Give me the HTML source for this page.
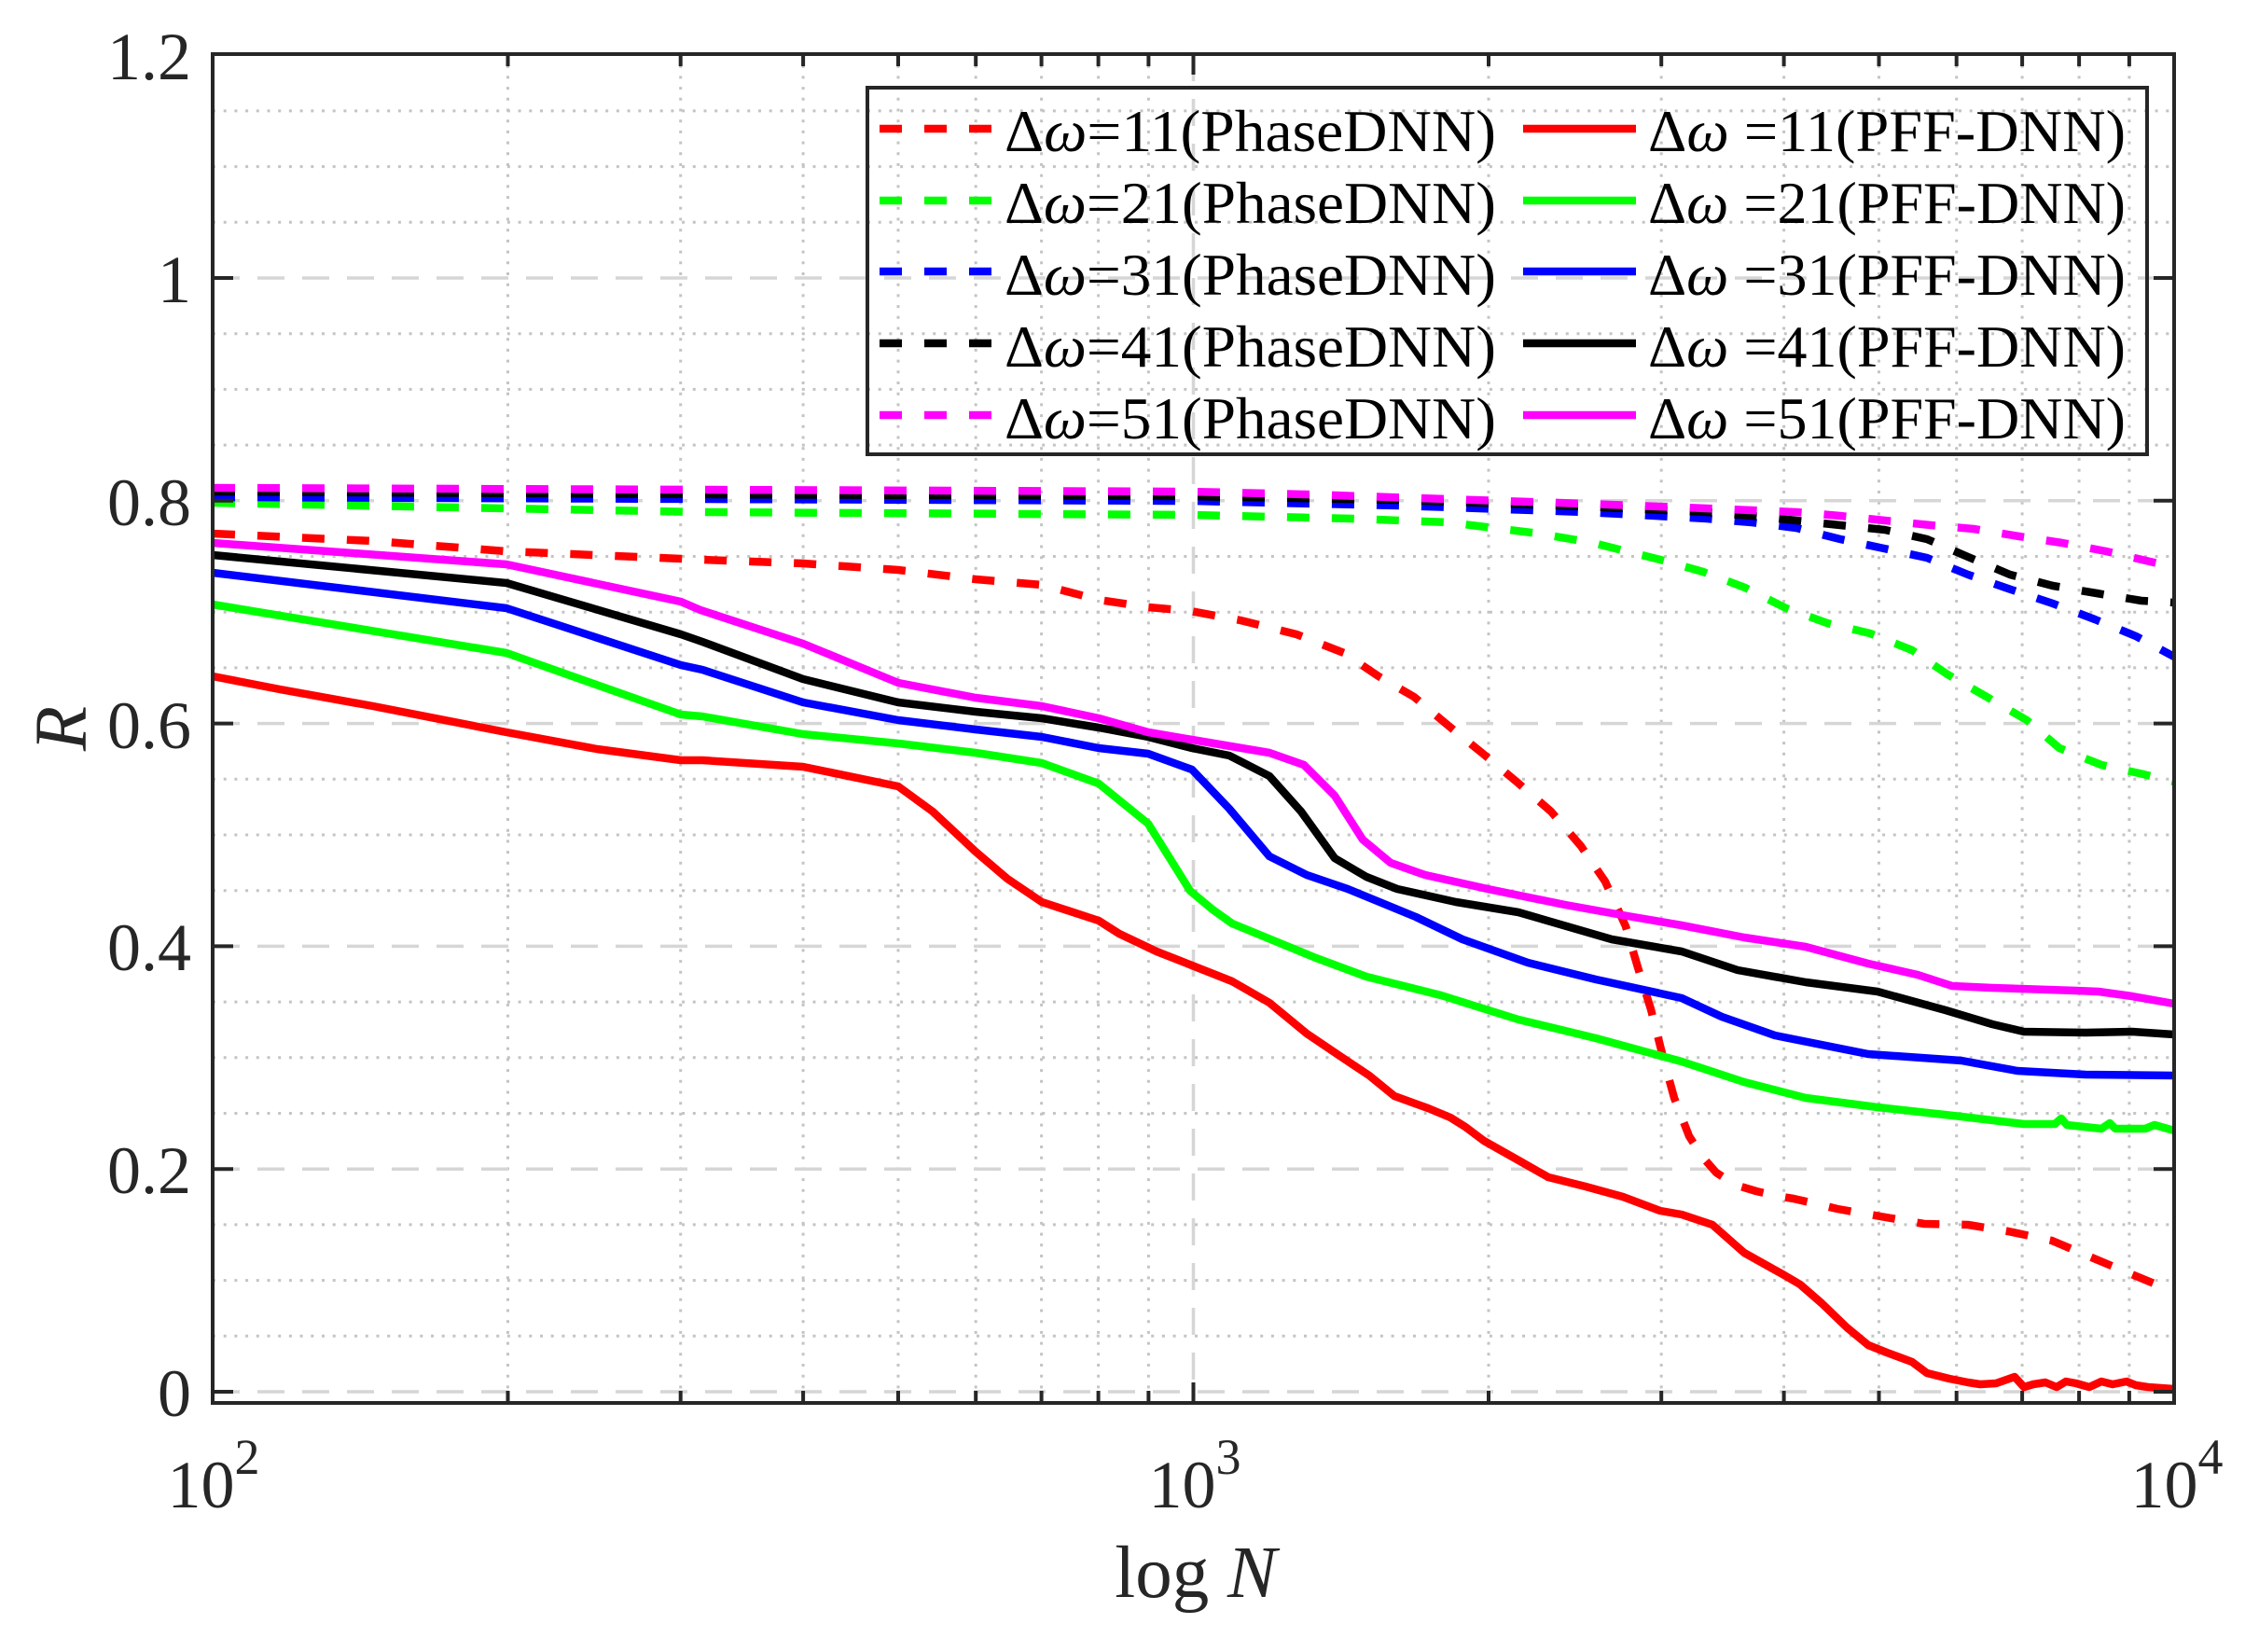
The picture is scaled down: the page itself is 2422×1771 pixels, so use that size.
<!DOCTYPE html>
<html><head><meta charset="utf-8"><style>
html,body{margin:0;padding:0;background:#fff;}
svg{display:block;}
text{font-family:"Liberation Serif","DejaVu Serif",serif;}
</style></head><body>
<svg width="2422" height="1771" viewBox="0 0 2422 1771" xmlns="http://www.w3.org/2000/svg">
<rect x="0" y="0" width="2422" height="1771" fill="#fff"/>
<!-- minor grid dotted -->
<g stroke="#c4c4c4" stroke-width="3" stroke-dasharray="3 8.7" fill="none">
<path d="M228 1432.3H2331M228 1372.6H2331M228 1312.9H2331M228 1193.5H2331M228 1133.8H2331M228 1074.1H2331M228 954.7H2331M228 895H2331M228 835.3H2331M228 715.9H2331M228 656.2H2331M228 596.5H2331M228 477.1H2331M228 417.4H2331M228 357.7H2331M228 238.3H2331M228 178.6H2331M228 118.9H2331"/>
<path d="M544.5 58V1504M729.7 58V1504M861.1 58V1504M963 58V1504M1046.2 58V1504M1116.6 58V1504M1177.6 58V1504M1231.4 58V1504M1596 58V1504M1781.2 58V1504M1912.6 58V1504M2014.5 58V1504M2097.7 58V1504M2168.1 58V1504M2229.1 58V1504M2282.9 58V1504"/>
</g>
<!-- major grid dashed -->
<g stroke="#d6d6d6" stroke-width="3.5" stroke-dasharray="29 19" fill="none">
<path d="M228 1492H2331M228 1253.2H2331M228 1014.4H2331M228 775.6H2331M228 536.8H2331M228 298H2331"/>
<path d="M1279.5 58V1504"/>
</g>

<!-- data -->
<g fill="none" stroke-width="8.5" stroke-linejoin="round">
<polyline stroke="#ff0000" stroke-dasharray="24 24" points="228,572 400,580 543,591 730,599 753,600 861,604 963,611 1046,621 1117,627 1178,643 1231,651 1276,655 1330,665 1390,680 1441,700 1478,725 1516,747 1553,778 1590,808 1626,838 1663,870 1695,907 1721,945 1743,993 1756,1037 1770,1082 1783,1133 1795,1177 1811,1218 1825,1240 1840,1257 1860,1270 1883,1277 1905,1282 1923,1285 1945,1290 1970,1296 2016,1304 2063,1312 2110,1313 2153,1320 2200,1330 2240,1347 2283,1365 2331,1385"/>
<polyline stroke="#ff0000" points="228,725 300,739 400,757 543,785 640,803 730,815 753,815 861,822 963,843 1000,870 1046,913 1080,942 1117,967 1178,987 1200,1001 1240,1020 1278,1035 1321,1052 1361,1075 1401,1108 1438,1133 1468,1153 1495,1175 1531,1188 1555,1198 1571,1208 1591,1223 1630,1245 1660,1262 1700,1272 1740,1283 1780,1298 1803,1302 1836,1313 1870,1343 1913,1367 1930,1377 1953,1397 1980,1423 2003,1442 2023,1450 2050,1460 2066,1472 2090,1478 2110,1482 2123,1484 2140,1483 2160,1476 2170,1487 2180,1484 2193,1482 2205,1487 2215,1481 2226,1483 2240,1487 2253,1481 2265,1484 2280,1481 2290,1485 2303,1487 2331,1489"/>
<polyline stroke="#00ff00" stroke-dasharray="24 24" points="228,539 543,545 753,549 1276,552 1450,556 1553,560 1650,572 1708,582 1780,600 1826,613 1871,630 1915,652 1959,668 2005,679 2050,697 2088,723 2130,747 2173,772 2208,802 2253,820 2298,830 2331,838"/>
<polyline stroke="#00ff00" points="228,648 543,700 730,766 753,768 861,787 963,797 1046,807 1117,818 1178,840 1231,883 1276,955 1300,975 1321,990 1411,1027 1465,1047 1545,1067 1628,1093 1711,1113 1803,1138 1870,1160 1936,1177 2013,1187 2103,1197 2170,1205 2203,1205 2210,1199 2216,1206 2253,1210 2262,1204 2268,1210 2300,1210 2310,1206 2331,1212"/>
<polyline stroke="#0000ff" stroke-dasharray="24 24" points="228,533 753,535 1276,537 1500,542 1700,549 1830,556 1878,560 1926,566 1973,578 2020,588 2066,598 2110,616 2156,632 2201,647 2246,664 2290,682 2331,704"/>
<polyline stroke="#0000ff" points="228,614 543,652 730,713 753,718 861,753 963,772 1046,782 1117,790 1178,802 1231,808 1278,825 1318,867 1361,918 1401,938 1445,953 1518,983 1568,1007 1638,1032 1711,1050 1803,1070 1846,1090 1903,1110 2003,1130 2103,1137 2163,1148 2236,1152 2331,1153"/>
<polyline stroke="#000000" stroke-dasharray="24 24" points="228,527 753,530 1276,532 1500,536 1700,543 1830,549 1878,553 1926,558 1973,563 2021,568 2066,578 2110,597 2155,616 2201,628 2248,636 2296,644 2331,646"/>
<polyline stroke="#000000" points="228,595 543,625 730,680 753,688 861,728 963,753 1046,763 1117,770 1178,780 1231,790 1278,802 1318,810 1361,832 1395,870 1431,920 1465,940 1498,953 1561,967 1628,978 1728,1007 1803,1020 1863,1040 1936,1053 2013,1063 2086,1083 2136,1098 2170,1106 2236,1107 2286,1106 2331,1109"/>
<polyline stroke="#ff00ff" stroke-dasharray="24 24" points="228,523 753,525 1276,527 1400,530 1550,535 1700,540 1830,545 1878,547 1926,549 1973,553 2021,558 2070,563 2116,567 2165,575 2211,582 2258,591 2305,602 2331,608"/>
<polyline stroke="#ff00ff" points="228,582 543,605 730,645 751,654 861,690 963,732 1046,748 1117,757 1178,770 1231,785 1278,793 1361,807 1398,820 1431,853 1461,900 1491,925 1528,938 1595,953 1678,970 1745,982 1803,992 1870,1005 1936,1015 2003,1033 2056,1045 2093,1057 2136,1059 2226,1062 2250,1063 2286,1068 2331,1076"/>
</g>

<!-- axes box -->
<rect x="228" y="58" width="2103" height="1446" fill="none" stroke="#262626" stroke-width="4"/>
<g stroke="#262626" stroke-width="4" fill="none">
<path d="M228 1492h22M228 1253.2h22M228 1014.4h22M228 775.6h22M228 536.8h22M228 298h22M2331 1492h-22M2331 1253.2h-22M2331 1014.4h-22M2331 775.6h-22M2331 536.8h-22M2331 298h-22"/>
<path d="M1279.5 1504v-22M1279.5 58v22"/>
<path d="M544.5 1504v-13M729.7 1504v-13M861.1 1504v-13M963 1504v-13M1046.2 1504v-13M1116.6 1504v-13M1177.6 1504v-13M1231.4 1504v-13M1596 1504v-13M1781.2 1504v-13M1912.6 1504v-13M2014.5 1504v-13M2097.7 1504v-13M2168.1 1504v-13M2229.1 1504v-13M2282.9 1504v-13"/>
<path d="M544.5 58v13M729.7 58v13M861.1 58v13M963 58v13M1046.2 58v13M1116.6 58v13M1177.6 58v13M1231.4 58v13M1596 58v13M1781.2 58v13M1912.6 58v13M2014.5 58v13M2097.7 58v13M2168.1 58v13M2229.1 58v13M2282.9 58v13"/>
</g>

<g font-size="72" fill="#262626" text-anchor="end">
<text x="205" y="1518">0</text>
<text x="205" y="1279">0.2</text>
<text x="205" y="1040">0.4</text>
<text x="205" y="802">0.6</text>
<text x="205" y="563">0.8</text>
<text x="205" y="324">1</text>
<text x="205" y="85">1.2</text>
</g>
<g font-size="72" fill="#262626" text-anchor="middle">
<text x="229" y="1616">10<tspan font-size="54" dy="-36">2</tspan></text>
<text x="1281" y="1616">10<tspan font-size="54" dy="-36">3</tspan></text>
<text x="2334" y="1616">10<tspan font-size="54" dy="-36">4</tspan></text>
</g>
<text x="1282" y="1712" font-size="79" fill="#262626" text-anchor="middle">log <tspan font-style="italic">N</tspan></text>
<text transform="translate(92,781) rotate(-90)" font-size="79" font-style="italic" fill="#262626" text-anchor="middle">R</text>

<!-- legend -->
<rect x="930" y="94" width="1372" height="393" fill="none" stroke="#262626" stroke-width="4"/>
<g fill="none" stroke-width="8.5">
<path d="M943 138H1064" stroke="#ff0000" stroke-dasharray="24 24"/>
<path d="M943 215H1064" stroke="#00ff00" stroke-dasharray="24 24"/>
<path d="M943 291H1064" stroke="#0000ff" stroke-dasharray="24 24"/>
<path d="M943 368H1064" stroke="#000000" stroke-dasharray="24 24"/>
<path d="M943 445H1064" stroke="#ff00ff" stroke-dasharray="24 24"/>
<path d="M1633 138H1754" stroke="#ff0000"/>
<path d="M1633 215H1754" stroke="#00ff00"/>
<path d="M1633 291H1754" stroke="#0000ff"/>
<path d="M1633 368H1754" stroke="#000000"/>
<path d="M1633 445H1754" stroke="#ff00ff"/>
</g>
<g font-size="64" fill="#000">
<text x="1077" y="162" textLength="527" lengthAdjust="spacingAndGlyphs">Δ<tspan font-style="italic">ω</tspan>=11(PhaseDNN)</text>
<text x="1077" y="239" textLength="527" lengthAdjust="spacingAndGlyphs">Δ<tspan font-style="italic">ω</tspan>=21(PhaseDNN)</text>
<text x="1077" y="316" textLength="527" lengthAdjust="spacingAndGlyphs">Δ<tspan font-style="italic">ω</tspan>=31(PhaseDNN)</text>
<text x="1077" y="393" textLength="527" lengthAdjust="spacingAndGlyphs">Δ<tspan font-style="italic">ω</tspan>=41(PhaseDNN)</text>
<text x="1077" y="470" textLength="527" lengthAdjust="spacingAndGlyphs">Δ<tspan font-style="italic">ω</tspan>=51(PhaseDNN)</text>
<text x="1767" y="162" textLength="512" lengthAdjust="spacingAndGlyphs">Δ<tspan font-style="italic">ω</tspan> =11(PFF-DNN)</text>
<text x="1767" y="239" textLength="512" lengthAdjust="spacingAndGlyphs">Δ<tspan font-style="italic">ω</tspan> =21(PFF-DNN)</text>
<text x="1767" y="316" textLength="512" lengthAdjust="spacingAndGlyphs">Δ<tspan font-style="italic">ω</tspan> =31(PFF-DNN)</text>
<text x="1767" y="393" textLength="512" lengthAdjust="spacingAndGlyphs">Δ<tspan font-style="italic">ω</tspan> =41(PFF-DNN)</text>
<text x="1767" y="470" textLength="512" lengthAdjust="spacingAndGlyphs">Δ<tspan font-style="italic">ω</tspan> =51(PFF-DNN)</text>
</g>
</svg>
</body></html>
